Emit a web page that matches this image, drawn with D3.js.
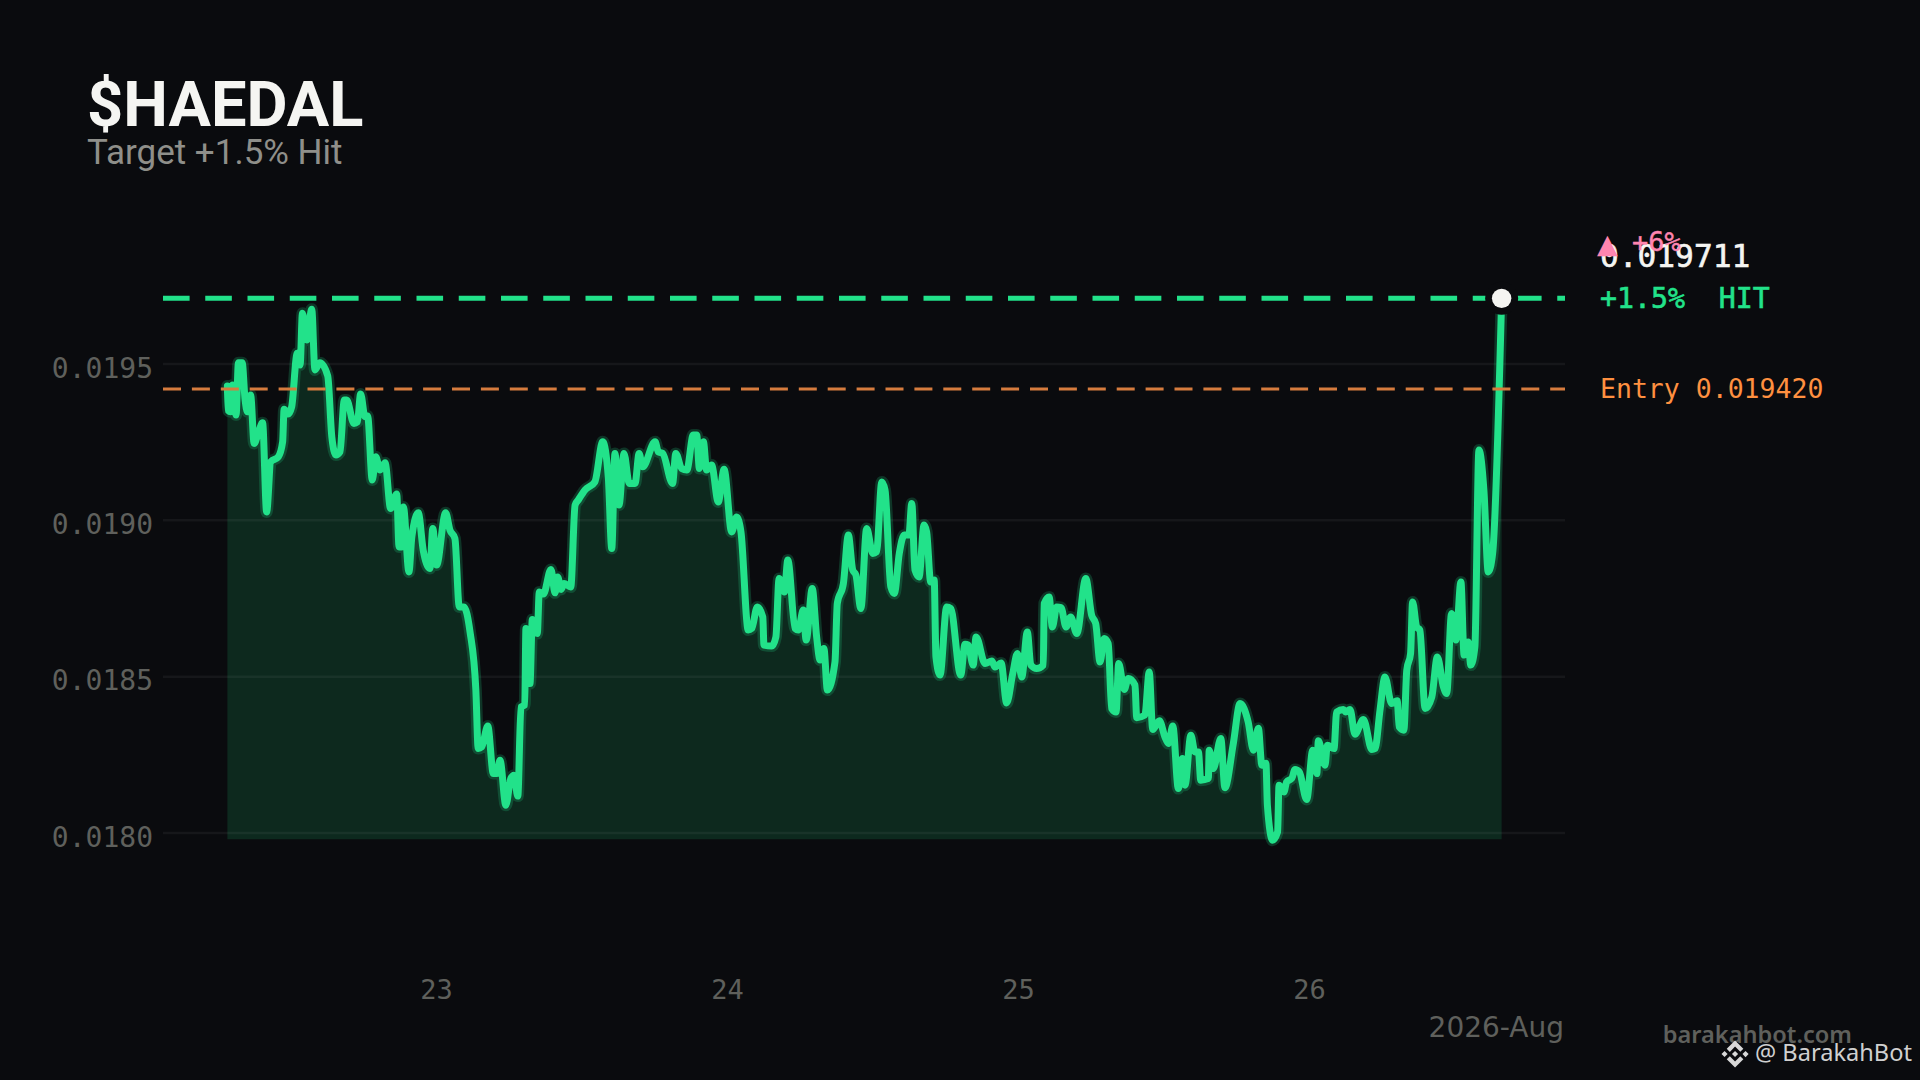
<!DOCTYPE html>
<html><head><meta charset="utf-8">
<script src="https://cdnjs.cloudflare.com/ajax/libs/d3/7.8.5/d3.min.js"></script>
<style>html,body{margin:0;padding:0;background:#0a0b0e;overflow:hidden}svg{display:block}</style>
</head><body><svg id="c" width="1920" height="1080"></svg>
<script>
const titleText = "$HAEDAL";
const subtitleText = "Target +1.5% Hit";
const yTicks = [0.018, 0.0185, 0.019, 0.0195];
const xTicks = [23, 24, 25, 26];
const monthLabel = "2026-Aug";
const targetPrice = 0.01971;
const entryPrice = 0.01942;
const lastPrice = 0.019711;
const areaFloor = 0.01798;
const days = [22.283,22.286,22.294,22.301,22.313,22.321,22.334,22.344,22.352,22.363,22.375,22.389,22.404,22.418,22.432,22.458,22.473,22.478,22.492,22.504,22.523,22.533,22.541,22.556,22.573,22.584,22.601,22.628,22.642,22.656,22.670,22.685,22.693,22.718,22.730,22.741,22.756,22.765,22.781,22.793,22.808,22.825,22.844,22.865,22.873,22.882,22.888,22.907,22.917,22.939,22.956,22.979,22.989,23.002,23.033,23.048,23.065,23.080,23.096,23.117,23.137,23.145,23.157,23.178,23.197,23.209,23.220,23.240,23.257,23.268,23.281,23.292,23.305,23.309,23.323,23.331,23.348,23.355,23.369,23.395,23.409,23.418,23.430,23.440,23.463,23.478,23.489,23.512,23.546,23.573,23.592,23.604,23.615,23.629,23.646,23.664,23.684,23.698,23.710,23.753,23.764,23.779,23.813,23.824,23.844,23.862,23.884,23.896,23.905,23.919,23.930,23.947,23.970,23.990,24.016,24.033,24.048,24.073,24.085,24.104,24.123,24.127,24.154,24.168,24.179,24.197,24.209,24.234,24.245,24.262,24.272,24.293,24.308,24.320,24.333,24.345,24.371,24.379,24.400,24.417,24.432,24.443,24.460,24.480,24.501,24.514,24.532,24.543,24.563,24.575,24.592,24.609,24.625,24.635,24.646,24.660,24.677,24.686,24.700,24.712,24.718,24.732,24.755,24.769,24.803,24.818,24.829,24.846,24.856,24.887,24.910,24.921,24.942,24.961,24.982,24.998,25.013,25.032,25.044,25.064,25.087,25.090,25.107,25.118,25.133,25.148,25.165,25.181,25.202,25.233,25.253,25.267,25.282,25.296,25.310,25.322,25.337,25.346,25.365,25.379,25.402,25.408,25.436,25.451,25.463,25.486,25.505,25.517,25.532,25.551,25.565,25.574,25.594,25.608,25.620,25.628,25.654,25.657,25.671,25.697,25.711,25.740,25.763,25.791,25.809,25.826,25.838,25.852,25.857,25.875,25.892,25.897,25.914,25.923,25.941,25.952,25.967,25.992,26.013,26.027,26.032,26.055,26.063,26.086,26.095,26.118,26.126,26.141,26.158,26.187,26.216,26.227,26.244,26.261,26.284,26.303,26.310,26.326,26.336,26.349,26.356,26.370,26.381,26.399,26.422,26.441,26.462,26.473,26.490,26.505,26.522,26.533,26.547,26.556,26.570,26.584,26.601,26.616,26.631,26.662];
const prices = [0.019430,0.019351,0.019347,0.019433,0.019337,0.019504,0.019504,0.019385,0.019347,0.019401,0.019246,0.019278,0.019312,0.019027,0.019187,0.019203,0.019251,0.019355,0.019340,0.019363,0.019534,0.019497,0.019662,0.019577,0.019675,0.019481,0.019504,0.019462,0.019267,0.019209,0.019219,0.019385,0.019385,0.019310,0.019315,0.019404,0.019331,0.019334,0.019129,0.019203,0.019161,0.019184,0.019038,0.019084,0.018915,0.018915,0.019043,0.018835,0.018947,0.019024,0.018905,0.018846,0.018974,0.018857,0.019024,0.018969,0.018942,0.018723,0.018723,0.018643,0.018457,0.018270,0.018275,0.018342,0.018190,0.018190,0.018233,0.018089,0.018174,0.018185,0.018118,0.018403,0.018409,0.018654,0.018478,0.018683,0.018638,0.018771,0.018764,0.018843,0.018768,0.018819,0.018779,0.018798,0.018787,0.019049,0.019065,0.019097,0.019123,0.019251,0.019139,0.018910,0.019214,0.019049,0.019214,0.019118,0.019118,0.019214,0.019171,0.019251,0.019219,0.019214,0.019118,0.019214,0.019166,0.019161,0.019273,0.019273,0.019166,0.019251,0.019161,0.019177,0.019059,0.019163,0.018963,0.019011,0.018963,0.018649,0.018654,0.018723,0.018691,0.018601,0.018598,0.018627,0.018814,0.018771,0.018873,0.018654,0.018649,0.018713,0.018617,0.018782,0.018627,0.018553,0.018590,0.018457,0.018547,0.018734,0.018798,0.018953,0.018841,0.018825,0.018718,0.018974,0.018894,0.018899,0.019123,0.019097,0.018787,0.018766,0.018894,0.018953,0.018953,0.019054,0.018841,0.018819,0.018985,0.018963,0.018803,0.018809,0.018563,0.018505,0.018723,0.018718,0.018505,0.018604,0.018601,0.018537,0.018627,0.018542,0.018550,0.018531,0.018544,0.018416,0.018510,0.018574,0.018499,0.018643,0.018537,0.018526,0.018537,0.018734,0.018755,0.018659,0.018723,0.018721,0.018659,0.018691,0.018638,0.018814,0.018697,0.018670,0.018547,0.018622,0.018606,0.018398,0.018387,0.018542,0.018459,0.018494,0.018473,0.018369,0.018377,0.018515,0.018331,0.018359,0.018307,0.018286,0.018342,0.018142,0.018238,0.018153,0.018313,0.018259,0.018259,0.018169,0.018174,0.018265,0.018206,0.018302,0.018145,0.018287,0.018414,0.018355,0.018265,0.018335,0.018217,0.018223,0.018089,0.017977,0.018003,0.018153,0.018131,0.018163,0.018175,0.018203,0.018195,0.018107,0.018265,0.018190,0.018295,0.018217,0.018281,0.018270,0.018387,0.018395,0.018387,0.018395,0.018316,0.018363,0.018267,0.018270,0.018393,0.018499,0.018414,0.018423,0.018339,0.018329,0.018521,0.018574,0.018739,0.018659,0.018649,0.018398,0.018435,0.018563,0.018467,0.018446,0.018702,0.018617,0.018803,0.018569,0.018611,0.018537,0.018595,0.019225,0.019097,0.018835,0.018894,0.019711];
const binancePath = "M16.624 13.9202l2.7175 2.7154-7.353 7.353-7.353-7.352 2.7175-2.7164 4.6355 4.6595 4.6356-4.6595zm4.6366-4.6366L24 12l-2.7154 2.7164L18.5682 12l2.6924-2.7164zm-9.272.001l2.7163 2.6914-2.7164 2.7174v-.001L9.2721 12l2.7164-2.7154zm-9.2722-.001L5.4088 12l-2.6914 2.6924L0 12l2.7164-2.7164zM11.9885.0115l7.353 7.329-2.7174 2.7154-4.6356-4.6356-4.6355 4.6595-2.7174-2.7154 7.353-7.353z";

const GREEN = "#22e28a", MONO = "'DejaVu Sans Mono', monospace", BG = "#0a0b0e";
const svg = d3.select("#c");
svg.append("rect").attr("width",1920).attr("height",1080).attr("fill",BG);
const x = d3.scaleLinear().domain([23,26]).range([436,1309]);
const y = d3.scaleLinear().domain([0.018,0.0195]).range([833,364]);
const L = 163, R = 1565;
const pts = days.map((d,i)=>[d,prices[i]]);

svg.append("path").datum(pts).attr("fill","#0d291e")
  .attr("d", d3.area().x(d=>x(d[0])).y0(y(areaFloor)).y1(d=>y(d[1])).curve(d3.curveMonotoneX));

svg.append("g").selectAll("line").data(yTicks).join("line")
  .attr("x1",L).attr("x2",R).attr("y1",d=>y(d)).attr("y2",d=>y(d))
  .attr("stroke","#ffffff").attr("stroke-opacity",0.05).attr("stroke-width",2.5);

const yAxis = svg.append("g").attr("transform",`translate(${L},2.5)`)
  .call(d3.axisLeft(y).tickValues(yTicks).tickSize(0).tickPadding(10).tickFormat(d3.format(".4f")));
yAxis.select(".domain").remove();
yAxis.selectAll("text").attr("fill","#5f605c").attr("font-family",MONO).attr("font-size",28).attr("dy","0.38em");

const xAxis = svg.append("g").attr("transform","translate(0,980)")
  .call(d3.axisBottom(x).tickValues(xTicks).tickSize(0).tickPadding(0).tickFormat(d3.format("d")));
xAxis.select(".domain").remove();
xAxis.selectAll("text").attr("fill","#5f605c").attr("font-family",MONO).attr("font-size",27).attr("y",0).attr("dy","0.71em");

const line = d3.line().x(d=>x(d[0])).y(d=>y(d[1])).curve(d3.curveMonotoneX);
svg.append("path").datum(pts).attr("fill","none").attr("stroke",GREEN).attr("stroke-opacity",0.2)
  .attr("stroke-width",12).attr("stroke-linejoin","round").attr("stroke-linecap","round").attr("d",line);
svg.append("path").datum(pts).attr("fill","none").attr("stroke",GREEN)
  .attr("stroke-width",7).attr("stroke-linejoin","round").attr("stroke-linecap","round").attr("d",line);

svg.append("line").attr("x1",L).attr("x2",R).attr("y1",y(entryPrice)).attr("y2",y(entryPrice))
  .attr("stroke","#d67c3e").attr("stroke-width",3).attr("stroke-dasharray","18 10.9");
svg.append("line").attr("x1",L).attr("x2",R).attr("y1",y(targetPrice)).attr("y2",y(targetPrice))
  .attr("stroke",GREEN).attr("stroke-width",5).attr("stroke-dasharray","26.6 15.65");

const lastX = x(days[days.length-1]), lastY = y(targetPrice);
svg.append("circle").attr("cx",lastX).attr("cy",lastY).attr("r",16.5).attr("fill",BG);
svg.append("circle").attr("cx",lastX).attr("cy",lastY).attr("r",9.7).attr("fill","#f5f5f2");

function t(s,px,py,size,fill,fam,weight,anchor,thick){
  const n = svg.append("text").attr("x",px).attr("y",py).attr("font-size",size).attr("fill",fill)
    .attr("font-family",fam).attr("font-weight",weight||400).attr("text-anchor",anchor||"start")
    .attr("xml:space","preserve").style("white-space","pre").text(s);
  if (thick) n.attr("stroke",fill).attr("stroke-width",thick);
  return n;
}
t(titleText,87,126,63.2,"#f5f5f2","Roboto",700);
t(subtitleText,87,164,35,"#8f8f8a","Roboto",400);
t(lastPrice.toFixed(6),1600,267,31.2,"#f5f5f2",MONO,400,"start",0.6);
t("+1.5%  HIT",1600,308,28.2,GREEN,MONO,400,"start",0.6);
t("Entry "+entryPrice.toFixed(6),1600,398,26.5,"#ff9040",MONO,400);
t("▲",1597,253,27,"#ff85b0","'DejaVu Sans'",400);
t("+6%",1632,251,27,"#ff85b0",MONO,400,"start",0.4);
t(monthLabel,1564,1037,28,"#5f605c","'DejaVu Sans'",400,"end");
t("barakahbot.com",1852,1043,23.6,"#5f605c","'Noto Sans'",600,"end");
svg.append("path").attr("d",binancePath).attr("fill","#d8d8d8")
  .attr("transform","translate(1721.5,1040.5) scale(1.13)");
t("@ BarakahBot",1755,1061,23.6,"#d0d0d0","'Noto Sans'",400);
</script></body></html>
